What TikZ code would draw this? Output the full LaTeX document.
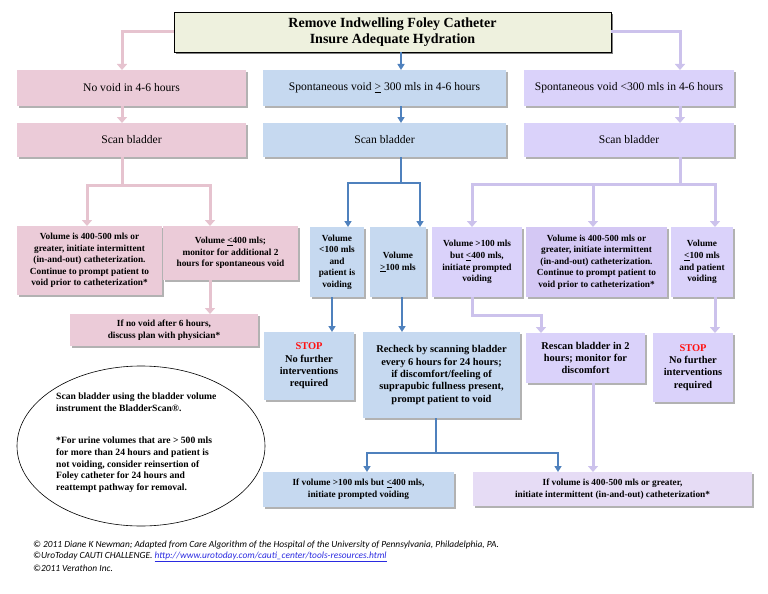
\documentclass[tikz,border=0pt]{standalone}
\usepackage{fontspec}
\setmainfont{Liberation Serif}
\newfontfamily\footfont{Carlito}
\usetikzlibrary{shadows,arrows.meta,calc,shapes.geometric}
\definecolor{pinkbox}{HTML}{EBCBD8}
\definecolor{bluebox}{HTML}{C6D9F0}
\definecolor{purpbox}{HTML}{DAD2FA}
\definecolor{purpdark}{HTML}{D4C8F4}
\definecolor{purplite}{HTML}{E6DCF5}
\definecolor{titlebox}{HTML}{EEF1DE}
\definecolor{pinkline}{HTML}{E6C3CF}
\definecolor{blueline}{HTML}{4F81BD}
\definecolor{purpline}{HTML}{CCC2EC}
\definecolor{linkblue}{HTML}{2A2AE0}
\definecolor{stopred}{HTML}{FF1010}
\begin{document}
\begin{tikzpicture}[x=1pt,y=-1pt,
  box/.style={inner sep=1pt, align=center, outer sep=0pt,
    drop shadow={shadow xshift=1.6pt,shadow yshift=-1.6pt,opacity=0.3,fill=black}},
  titlebx/.style={draw=black, line width=0.8pt, fill=titlebox, minimum width=437pt,
    minimum height=40pt, align=center, font=\bfseries\fontsize{14}{16}\selectfont,
    drop shadow={shadow xshift=2pt,shadow yshift=-2pt,opacity=0.5,fill=black}},
  big/.style={font=\fontsize{11.6}{13}\selectfont},
  small/.style={font=\bfseries\fontsize{9.3}{11.6}\selectfont},
  mid/.style={font=\bfseries\fontsize{10.4}{12.3}\selectfont},
  ell/.style={font=\bfseries\fontsize{9.6}{11.8}\selectfont},
  pk/.style={box,fill=pinkbox},
  bl/.style={box,fill=bluebox},
  pu/.style={box,fill=purpbox},
  pinkln/.style={draw=pinkline,line width=3pt},
  pinkarr/.style={pinkln,-{Triangle[width=10pt,length=6pt]}},
  blueln/.style={draw=blueline,line width=2pt},
  bluearr/.style={blueln,-{Triangle[width=7pt,length=6pt]}},
  purpln/.style={draw=purpline,line width=3pt},
  purparr/.style={purpln,-{Triangle[width=10pt,length=6pt]}},
  foot/.style={font=\footfont\itshape\fontsize{9.4}{10}\selectfont, inner sep=0pt, anchor=west, text=black}
]
\useasboundingbox (0,0) rectangle (768,594);

% title
\node[titlebx] (t) at (392.5,32) {Remove Indwelling Foley Catheter\\Insure Adequate Hydration};

% row 1 and 2
\node[pk,big,minimum width=229pt,minimum height=36pt] (n1) at (131.5,88) {No void in 4-6 hours};
\node[bl,big,minimum width=243pt,minimum height=36pt] (n2) at (384.5,88) {Spontaneous void \underline{>} 300 mls in 4-6 hours};
\node[pu,big,minimum width=210pt,minimum height=36pt] (n3) at (629,88) {Spontaneous void <300 mls in 4-6 hours};
\node[pk,big,minimum width=229pt,minimum height=34pt] (s1) at (131.5,140) {Scan bladder};
\node[bl,big,minimum width=243pt,minimum height=34pt] (s2) at (384.5,140) {Scan bladder};
\node[pu,big,minimum width=210pt,minimum height=34pt] (s3) at (629,140) {Scan bladder};

% row 3 pink
\node[pk,small,minimum width=145pt,minimum height=69pt] (p1) at (89.5,260.5) {Volume is 400-500 mls or\\greater, initiate intermittent\\(in-and-out) catheterization.\\Continue to prompt patient to\\void prior to catheterization*};
\node[pk,small,minimum width=135pt,minimum height=54pt] (p2) at (230.5,253) {Volume \underline{<}400 mls;\\monitor for additional 2\\hours for spontaneous void};
\node[pk,small,minimum width=188pt,minimum height=32pt] (p4) at (164,330) {If no void after 6 hours,\\discuss plan with physician*};

% row 3 blue
\node[bl,small,minimum width=54pt,minimum height=70pt] (b1) at (337,262) {Volume\\<100 mls\\and\\patient is\\voiding};
\node[bl,small,minimum width=56pt,minimum height=70pt] (b2) at (398,262) {Volume\\\underline{>}100 mls};
\node[bl,mid,minimum width=90pt,minimum height=68pt] (b3) at (309,366) {\textcolor{stopred}{STOP}\\No further\\interventions\\required};
\node[bl,mid,minimum width=157pt,minimum height=86pt] (b4) at (441.5,375) {Recheck by scanning bladder\\every 6 hours for 24 hours;\\if discomfort/feeling of\\suprapubic fullness present,\\prompt patient to void};

% row 3 purple
\node[pu,small,minimum width=90pt,minimum height=70pt] (q1) at (477,262) {Volume >100 mls\\but \underline{<}400 mls,\\initiate prompted\\voiding};
\node[box,fill=purpdark,small,minimum width=141pt,minimum height=70pt] (q2) at (596.5,262) {Volume is 400-500 mls or\\greater, initiate intermittent\\(in-and-out) catheterization.\\Continue to prompt patient to\\void prior to catheterization*};
\node[pu,small,minimum width=62pt,minimum height=70pt] (q3) at (702,262) {Volume\\\underline{<}100 mls\\and patient\\voiding};
\node[pu,mid,minimum width=119pt,minimum height=50pt] (q4) at (585.5,358) {Rescan bladder in 2\\hours; monitor for\\discomfort};
\node[pu,mid,minimum width=80pt,minimum height=69pt] (q5) at (693,367.5) {\textcolor{stopred}{STOP}\\No further\\interventions\\required};

% bottom row
\node[bl,small,minimum width=191pt,minimum height=35pt] (r1) at (358.5,489.5) {If volume >100 mls but \underline{<}400 mls,\\initiate prompted voiding};
\node[box,fill=purplite,small,minimum width=279pt,minimum height=34pt] (r2) at (612.5,489) {If volume is 400-500 mls or greater,\\initiate intermittent (in-and-out) catheterization*};

% ellipse note
\node[draw=black, line width=0.6pt, ellipse, minimum width=248pt, minimum height=160pt, inner sep=0pt] (el) at (141,446) {};
\node[ell, align=left, anchor=north west, inner sep=0pt] (elt) at (56,393) {Scan bladder using the bladder volume\\instrument the BladderScan®.\\[20pt]*For urine volumes that are > 500 mls\\for more than 24 hours and patient is\\not voiding, consider reinsertion of\\Foley catheter for 24 hours and\\reattempt pathway for removal.};

% connectors: pink
\draw[pinkarr] (t.west) -| (122,0 |- n1.north);
\draw[pinkarr] (122,0 |- n1.south) -- (122,0 |- s1.north);
\coordinate (pj) at (122,185);
\draw[pinkln] (122,0 |- s1.south) -- (pj);
\draw[pinkarr] (pj) -| (87,0 |- p1.north);
\draw[pinkarr] (pj) -| (210,0 |- p2.north);
\draw[pinkarr] (210,0 |- p2.south) -- (210,0 |- p4.north);

% connectors: blue
\draw[bluearr] (401,0 |- t.south) -- (401,0 |- n2.north);
\draw[bluearr] (401,0 |- n2.south) -- (401,0 |- s2.north);
\coordinate (bj) at (401,183);
\draw[blueln] (401,0 |- s2.south) -- (bj);
\draw[bluearr] (bj) -| (348,0 |- b1.north);
\draw[bluearr] (bj) -| (420,0 |- b2.north);
\draw[bluearr] (332,0 |- b1.south) -- (332,0 |- b3.north);
\draw[bluearr] (402,0 |- b2.south) -- (402,0 |- b4.north);
\coordinate (bk) at (436,453);
\draw[blueln] (436,0 |- b4.south) -- (bk);
\draw[bluearr] (bk) -| (367,0 |- r1.north);
\draw[bluearr] (bk) -| (558,0 |- r2.north);

% connectors: purple
\draw[purparr] (t.east) -| (680,0 |- n3.north);
\draw[purparr] (680,0 |- n3.south) -- (680,0 |- s3.north);
\coordinate (qj) at (680,184);
\draw[purpln] (680,0 |- s3.south) -- (qj);
\draw[purparr] (qj) -| (472,0 |- q1.north);
\draw[purparr] (qj) -| (715,0 |- q3.north);
\draw[purparr] (qj -| 593,0) -- (593,0 |- q2.north);
\coordinate (qk) at (541,315);
\draw[purparr] (472,0 |- q1.south) |- (qk) -- (qk |- q4.north);
\draw[purparr] (715,0 |- q3.south) -- (715,0 |- q5.north);
\draw[purparr] (593,0 |- q4.south) -- (593,0 |- r2.north);

% footer
\node[foot] (f1) at (33,545) {© 2011 Diane K Newman; Adapted from Care Algorithm of the Hospital of the University of Pennsylvania, Philadelphia, PA.};
\node[foot] (f2) at (33,557) {©UroToday CAUTI CHALLENGE. \textcolor{linkblue}{\underline{http://www.urotoday.com/cauti\_center/tools-resources.html}}};
\node[foot] (f3) at (33,568) {©2011 Verathon Inc.};
\end{tikzpicture}
\end{document}
